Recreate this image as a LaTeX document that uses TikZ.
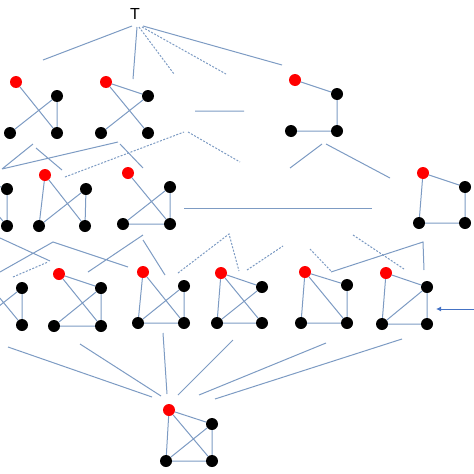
\documentclass[tikz,border=0pt]{standalone}
\usepackage{fontspec}
\setmainfont{Liberation Sans}
\usetikzlibrary{arrows.meta}
\definecolor{edgecol}{RGB}{125,155,195}
\definecolor{arrcol}{RGB}{68,114,196}
\tikzset{
  bdot/.style={circle,fill=black,inner sep=0pt,minimum size=12pt},
  rdot/.style={circle,fill=red,inner sep=0pt,minimum size=12pt},
  gedge/.style={draw=edgecol,line width=1pt},
  hline/.style={draw=edgecol,line width=1pt},
  hdash/.style={draw=edgecol,line width=1pt,dash pattern=on 2pt off 1.5pt},
}
\begin{document}
\begin{tikzpicture}[x=1pt,y=-1pt]
\useasboundingbox (0,0) rectangle (474,474);
\clip (0,0) rectangle (474,474);
% label
\node[font=\fontsize{16}{16}\selectfont] (T) at (135,14) {T};
% dots
\node[rdot] (a1) at (16,82) {}; \node[bdot] (a2) at (57,96) {};
\node[bdot] (a3) at (10,133) {}; \node[bdot] (a4) at (57,133) {};
\node[rdot] (b1) at (106,82) {}; \node[bdot] (b2) at (148,96) {};
\node[bdot] (b3) at (101,133) {}; \node[bdot] (b4) at (148,133) {};
\node[rdot] (c1) at (295,80) {}; \node[bdot] (c2) at (337,94) {};
\node[bdot] (c3) at (291,131) {}; \node[bdot] (c4) at (337,131) {};
\coordinate (d1) at (-35,175); \node[bdot] (d2) at (7,189) {};
\node[bdot] (d4) at (7,226) {};
\node[rdot] (e1) at (45,175) {}; \node[bdot] (e2) at (86,189) {};
\node[bdot] (e3) at (39,226) {}; \node[bdot] (e4) at (85,226) {};
\node[rdot] (f1) at (128,173) {}; \node[bdot] (f2) at (170,187) {};
\node[bdot] (f3) at (123,224) {}; \node[bdot] (f4) at (170,224) {};
\node[rdot] (g1) at (423,173) {}; \node[bdot] (g2) at (465,187) {};
\node[bdot] (g3) at (419,223) {}; \node[bdot] (g4) at (465,223) {};
\coordinate (h1) at (-20,274); \node[bdot] (h2) at (22,288) {};
\coordinate (h3) at (-25,325); \node[bdot] (h4) at (22,325) {};
\node[rdot] (i1) at (59,274) {}; \node[bdot] (i2) at (101,288) {};
\node[bdot] (i3) at (54,326) {}; \node[bdot] (i4) at (101,326) {};
\node[rdot] (j1) at (143,272) {}; \node[bdot] (j2) at (184,286) {};
\node[bdot] (j3) at (138,323) {}; \node[bdot] (j4) at (184,323) {};
\node[rdot] (k1) at (221,273) {}; \node[bdot] (k2) at (262,287) {};
\node[bdot] (k3) at (217,323) {}; \node[bdot] (k4) at (262,323) {};
\node[rdot] (l1) at (305,272) {}; \node[bdot] (l2) at (347,285) {};
\node[bdot] (l3) at (301,323) {}; \node[bdot] (l4) at (347,323) {};
\node[rdot] (m1) at (386,273) {}; \node[bdot] (m2) at (427,287) {};
\node[bdot] (m3) at (382,324) {}; \node[bdot] (m4) at (427,324) {};
\node[rdot] (n1) at (169,410) {}; \node[bdot] (n2) at (212,424) {};
\node[bdot] (n3) at (166,461) {}; \node[bdot] (n4) at (212,461) {};
% graph edges
\draw[gedge] (a1)--(a4) (a3)--(a2) (a2)--(a4);
\draw[gedge] (b1)--(b2) (b1)--(b4) (b3)--(b2);
\draw[gedge] (c1)--(c2) (c2)--(c4) (c3)--(c4);
\draw[gedge] (d1)--(d2) (d1)--(d4) (d2)--(d4);
\draw[gedge] (e1)--(e3) (e1)--(e4) (e3)--(e2) (e2)--(e4);
\draw[gedge] (f1)--(f4) (f3)--(f2) (f3)--(f4) (f2)--(f4);
\draw[gedge] (g1)--(g2) (g1)--(g3) (g3)--(g4) (g2)--(g4);
\draw[gedge] (h1)--(h4) (h3)--(h2) (h2)--(h4);
\draw[gedge] (i1)--(i2) (i1)--(i4) (i3)--(i2) (i3)--(i4) (i2)--(i4);
\draw[gedge] (j1)--(j3) (j1)--(j4) (j3)--(j2) (j3)--(j4) (j2)--(j4);
\draw[gedge] (k1)--(k2) (k1)--(k3) (k1)--(k4) (k3)--(k2) (k3)--(k4);
\draw[gedge] (l1)--(l2) (l1)--(l3) (l1)--(l4) (l2)--(l4) (l3)--(l4);
\draw[gedge] (m1)--(m2) (m1)--(m3) (m3)--(m2) (m3)--(m4) (m2)--(m4);
\draw[gedge] (n1)--(n2) (n1)--(n3) (n1)--(n4) (n3)--(n2) (n3)--(n4) (n2)--(n4);
% lines from T
\draw[hline] (132,26)--(43,60) (137,27)--(133,79) (143,26)--(282,65);
\draw[hdash] (139,27)--(174,74) (142,27)--(226,74);
% between rows 1 and 2
\draw[hline] (33,144)--(2,169) (36,148)--(62,170) (2,169)--(118,142)
  (120,144)--(143,168) (195,111)--(244,111) (322,144)--(290,168) (326,144)--(390,178);
\draw[hdash] (65,177)--(184,132) (188,132)--(240,162);
% row 2 horizontal
\draw[hline] (184,208)--(372,208);
% between rows 2 and 3
\draw[hline] (0,238)--(50,261) (0,272)--(53,242)--(128,267) (88,272)--(143,235)
  (143,240)--(165,275) (331,272)--(423,242)--(424,270);
\draw[hdash] (13,277)--(48,262) (178,273)--(229,234)--(239,271) (247,270)--(283,246)
  (310,249)--(331,271) (353,235)--(404,269);
% between rows 3 and 4
\draw[hline] (8,347)--(152,397) (80,344)--(161,396) (163,333)--(167,394)
  (233,340)--(178,395) (326,343)--(199,395) (402,339)--(215,399);
% arrow
\coordinate (arrS) at (474,309);
\coordinate (arrE) at (436,309);
\draw[arrcol,line width=1pt,-{Latex[length=5pt,width=5pt]}] (arrS)--(arrE);
\end{tikzpicture}
\end{document}
